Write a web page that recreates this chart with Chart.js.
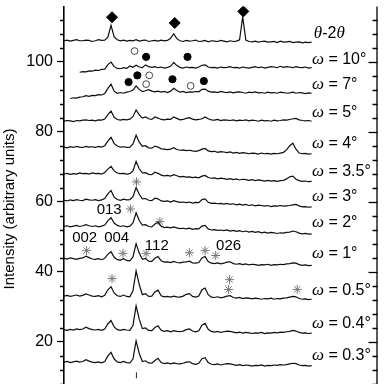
<!DOCTYPE html>
<html>
<head>
<meta charset="utf-8">
<script src="https://cdn.jsdelivr.net/npm/chart.js@4/dist/chart.umd.min.js"></script>
<style>
html,body{margin:0;padding:0;background:#fff;}
#wrap{position:absolute;left:0;top:0;width:384px;height:384px;overflow:hidden;background:#fff;}
canvas{display:block;}
</style>
</head>
<body>
<div id="wrap"><canvas id="c" width="384" height="418"></canvas></div>
<script>
// ---- data (2θ grid, intensities) ----
const twoTheta = [10,10.5,11,11.5,12,12.5,13,13.5,14,14.5,15,15.5,16,16.5,17,17.5,18,18.5,19,19.5,
20,20.5,21,21.5,22,22.5,23,23.5,24,24.5,25,25.5,26,26.5,27,27.5,28,28.5,29,29.5,
30,30.5,31,31.5,32,32.5,33,33.5,34,34.5,35,35.5,36,36.5,37,37.5,38,38.5,39,39.5,
40,40.5,41,41.5,42,42.5,43,43.5,44,44.5,45,45.5,46,46.5,47,47.5,48,48.5,49,49.5];

const thetaTwoTheta = [106.0,106.2,105.9,106.1,106.3,106.0,106.0,106.2,106.1,105.8,
106.0,106.3,106.1,106.2,107.0,110.4,107.1,106.3,106.0,106.2,
105.9,106.1,106.0,106.3,105.9,106.1,106.2,105.8,106.0,106.1,
105.9,106.2,106.0,106.1,106.7,108.0,106.6,106.0,105.8,106.1,
105.9,106.0,106.2,105.8,105.9,106.1,105.7,106.0,105.9,105.8,
106.1,105.9,105.7,106.0,105.8,105.9,106.3,112.8,106.2,105.8,
105.7,105.9,105.6,105.8,105.9,105.6,105.7,105.8,105.5,105.9,
105.6,105.7,105.8,105.5,105.6,105.7,105.4,105.6,105.5,105.6];

const omega10 = [null,null,null,null,null,97.0,97.2,97.1,97.4,97.3,
97.6,97.5,97.8,97.9,99.2,99.9,98.6,98.1,98.0,98.3,
98.1,98.8,98.4,99.0,98.5,98.3,99.1,98.6,98.4,98.6,
98.3,98.5,98.2,98.4,98.7,99.8,98.9,98.4,98.2,98.5,
98.3,98.4,98.2,98.5,99.0,99.1,98.5,98.3,98.4,98.2,
98.5,98.3,98.4,98.6,98.3,98.4,98.2,98.5,98.3,98.2,
98.4,98.6,98.3,98.5,98.2,98.4,98.6,98.5,98.3,98.7,
98.4,98.6,98.5,98.3,98.6,98.4,98.3,98.5,98.2,98.3];

const omega7 = [null,null,89.5,89.7,89.6,89.9,90.0,90.3,90.1,90.4,
90.3,90.6,90.5,90.9,92.4,93.6,91.6,91.0,91.2,91.0,
91.3,91.5,91.9,93.1,92.1,91.5,91.7,92.0,91.6,91.4,
91.6,91.3,91.5,91.2,91.6,92.4,91.8,91.3,91.5,91.2,
91.4,91.3,91.5,91.4,92.1,92.2,91.6,91.3,91.4,91.2,
91.5,91.3,91.2,91.4,91.1,91.3,91.4,91.2,91.0,91.3,
91.2,91.4,91.1,91.2,91.0,91.3,91.1,91.2,91.0,91.3,
91.2,91.0,91.1,91.3,91.0,91.2,91.1,90.9,91.1,91.0];

const omega5 = [83.0,83.2,83.1,82.9,83.2,83.1,83.3,83.4,83.2,83.3,
83.1,83.4,83.3,83.6,84.9,85.9,84.1,83.5,83.3,83.5,
83.4,83.6,84.3,86.2,84.8,83.9,84.2,83.7,83.5,84.2,
83.9,83.5,83.4,83.6,83.5,84.2,83.8,83.4,83.5,83.8,
84.0,83.6,83.4,83.5,83.7,84.2,83.7,83.4,83.3,83.5,
83.2,83.4,83.3,83.2,83.4,83.1,83.3,83.2,83.4,83.1,
83.3,83.2,83.0,83.3,83.1,83.2,83.0,83.3,83.1,83.2,
83.4,83.3,83.5,83.7,83.8,83.4,83.2,83.1,83.2,83.0];

const omega4 = [75.6,75.4,75.7,75.5,75.8,75.6,75.5,75.8,75.6,75.7,
75.5,75.8,75.6,76.0,77.3,78.4,76.6,75.9,75.6,75.7,
75.5,75.6,76.5,79.0,77.0,75.8,76.0,75.4,75.3,75.9,
75.6,75.1,75.0,74.9,75.0,75.4,74.9,74.7,74.8,74.6,
74.7,74.5,74.4,74.6,75.0,75.2,74.5,74.3,74.4,74.1,
74.3,74.2,74.0,74.2,73.9,74.1,73.8,74.0,73.9,73.7,
73.9,73.8,73.6,73.9,73.7,73.8,73.6,73.8,73.7,73.9,
74.1,74.8,76.0,76.7,75.0,73.9,73.7,73.8,73.6,73.7];

const omega3p5 = [67.9,68.1,67.8,68.0,67.9,68.2,68.0,68.1,67.9,68.2,
68.0,68.1,67.9,68.3,69.3,70.1,68.8,68.2,68.0,68.1,
67.9,68.0,68.8,71.5,69.4,68.2,68.3,67.8,67.7,68.4,
68.1,67.6,67.4,67.5,67.3,67.7,67.4,67.1,67.2,67.0,
67.1,66.9,67.0,66.8,67.3,67.5,66.9,66.7,66.8,66.5,
66.7,66.6,66.4,66.6,66.3,66.5,66.2,66.4,66.3,66.1,
66.3,66.0,66.2,66.1,65.9,66.1,65.9,66.0,65.8,66.0,
66.1,66.5,67.1,67.3,66.4,66.0,65.8,65.9,65.7,65.8];

const omega3 = [60.4,60.2,60.5,60.3,60.6,60.4,60.3,60.7,60.5,60.4,
60.6,60.3,60.5,60.9,62.2,63.2,61.3,60.6,60.4,60.7,
60.5,60.6,61.4,64.0,62.1,60.8,60.9,60.4,60.3,61.0,
60.8,60.2,60.1,60.2,59.9,60.3,60.0,59.8,59.9,59.7,
59.9,59.6,59.8,59.7,60.6,60.8,59.8,59.5,59.6,59.4,
59.5,59.3,59.5,59.2,59.4,59.1,59.3,59.0,59.2,58.9,
59.1,58.8,59.0,58.9,58.7,58.9,58.6,58.8,58.7,58.9,
58.7,58.8,58.9,59.1,59.2,58.8,58.5,58.6,58.4,58.5];

const omega2 = [52.9,53.1,52.8,53.0,53.2,52.9,53.1,53.4,53.1,52.9,
53.1,52.8,53.0,53.3,54.6,55.4,53.9,53.2,52.9,53.1,
52.8,53.0,53.9,56.8,54.6,53.3,53.4,52.9,52.8,53.6,
54.1,53.0,52.6,52.7,52.5,52.8,52.5,52.3,52.4,52.2,
52.4,52.1,52.3,52.2,53.0,53.2,52.2,51.9,52.0,51.8,
51.9,51.7,51.9,51.6,51.8,51.5,51.7,51.4,51.6,51.3,
51.5,51.2,51.4,51.1,51.3,51.0,51.2,51.1,50.9,51.1,
51.0,51.2,51.3,51.6,51.4,51.0,50.8,50.9,50.7,50.8];

const omega1 = [43.8,43.6,43.9,43.7,43.5,43.8,43.9,44.4,44.0,43.6,
43.5,43.7,43.4,43.8,45.0,45.7,44.1,43.4,43.3,43.7,
43.2,43.1,44.2,48.0,45.3,43.5,43.8,43.0,42.9,43.8,
44.3,43.1,42.7,42.8,42.6,42.9,42.6,42.5,42.7,42.8,
43.0,42.5,42.4,42.6,43.9,44.3,42.9,42.4,42.3,42.5,
42.2,42.4,42.7,42.8,42.3,42.1,42.3,42.0,42.2,41.9,
42.1,42.0,41.8,42.0,41.9,42.1,41.8,42.0,41.9,42.1,
42.0,42.2,42.3,42.5,42.4,42.0,41.8,41.9,41.7,41.8];

const omega0p5 = [33.0,33.2,32.9,33.1,33.3,33.0,33.2,33.6,33.3,33.0,
32.9,33.1,32.8,33.2,34.8,35.7,33.9,33.1,32.9,33.3,
32.9,32.8,34.5,40.2,36.3,33.4,33.7,32.9,33.0,34.2,
34.7,33.1,32.8,32.9,32.7,33.0,32.8,32.7,33.0,33.5,
33.7,32.9,32.7,33.0,34.8,35.3,33.4,32.7,32.6,32.8,
32.5,32.7,33.0,33.1,32.6,32.4,32.6,32.3,32.5,32.4,
32.2,32.4,32.3,32.1,32.3,32.2,32.4,32.1,32.3,32.2,
32.4,32.5,32.7,32.9,32.8,32.3,32.1,32.2,32.0,32.1];

const omega0p4 = [23.4,23.2,23.5,23.3,23.6,23.4,23.6,24.1,23.7,23.4,
23.3,23.5,23.2,23.6,25.1,26.0,24.2,23.4,23.2,23.5,
23.3,23.2,24.6,30.2,26.4,23.7,23.9,23.2,23.1,24.0,
24.5,23.2,22.9,23.1,22.8,23.1,22.9,22.8,23.0,23.4,
23.6,23.0,22.8,23.1,24.7,25.2,23.5,22.9,22.7,22.9,
22.6,22.8,23.0,22.9,22.7,22.5,22.7,22.4,22.6,22.5,
22.3,22.5,22.4,22.6,22.3,22.5,22.4,22.6,22.5,22.7,
22.6,22.8,22.9,23.2,23.0,22.6,22.4,22.5,22.3,22.4];

const omega0p3 = [14.1,14.3,14.0,14.2,14.4,14.1,14.3,14.8,14.4,14.1,
14.0,14.2,13.9,14.3,15.9,16.9,15.0,14.2,14.0,14.3,
14.0,13.9,15.0,20.2,16.6,14.3,14.5,13.9,13.8,14.6,
15.2,14.0,13.7,13.9,13.6,13.9,13.7,13.6,13.8,14.1,
14.2,13.7,13.5,13.8,15.1,15.4,14.0,13.5,13.4,13.6,
13.3,13.5,13.7,13.6,13.4,13.2,13.4,13.1,13.3,13.2,
13.0,13.2,13.1,13.3,13.0,13.2,13.1,13.3,13.2,13.4,
13.3,13.4,13.6,13.8,13.7,13.3,13.1,13.2,13.0,13.1];

const traceLabels = ['θ-2θ','ω = 10°','ω = 7°','ω = 5°','ω = 4°','ω = 3.5°','ω = 3°','ω = 2°','ω = 1°','ω = 0.5°','ω = 0.4°','ω = 0.3°'];
const traceSeries = [thetaTwoTheta,omega10,omega7,omega5,omega4,omega3p5,omega3,omega2,omega1,omega0p5,omega0p4,omega0p3];
const yTicks = [20,40,60,80,100];

// phase markers [2θ, intensity]
const diamondMarks = [[17.66,112.75],[27.66,111.1],[38.6,114.4]];
const filledCircleMarks = [[23.1,101.4],[29.7,101.4],[20.3,94.2],[21.7,96.1],[27.3,95.0],[32.3,94.5]];
const openCircleMarks = [[21.25,103.05],[23.6,96.1],[23.1,93.6],[30.2,93.1]];
const asteriskMarks = [[21.56,65.66],[20.6,57.9],[25.3,54.3],[13.6,46.0],[19.4,45.2],[23.1,45.2],[30.0,45.4],[32.5,46.0],[34.2,44.6],[17.66,38.0],[36.4,37.7],[36.25,34.9],[47.2,34.9]];
const refTick = [[21.55,9.5],[21.55,11.2]];

// annotations
const hklLabels = ['002','004','013','112','026'];
const hklAnchors = [[13.3,49.6],[18.4,49.6],[17.2,57.6],[24.8,47.4],[36.25,47.4]];
const traceLabelAnchors = [[49.85,108.0],[49.55,100.6],[49.55,93.6],[49.55,85.6],[49.55,76.5],[49.55,68.7],[49.55,61.5],[49.55,54.0],[49.55,45.2],[49.55,34.6],[49.55,25.2],[49.55,16.1]];

// ---- build chart ----
const pts = arr => arr.map(p => ({x: p[0], y: p[1]}));
const datasets = traceSeries.map((s, k) => ({
  label: traceLabels[k],
  data: twoTheta.map((t, i) => ({x: t, y: s[i]})),
  borderColor: '#0d0d0d', borderWidth: 1.2, pointRadius: 0, tension: 0, spanGaps: false
}));
datasets.push({label:'ref', data: pts(refTick), borderColor:'#222', borderWidth:1, pointRadius:0});
datasets.push({label:'diamond', data: pts(diamondMarks), showLine:false, pointStyle:'rectRot', pointRadius:5.5, pointBackgroundColor:'#000', pointBorderColor:'#000', pointBorderWidth:1});
datasets.push({label:'filled', data: pts(filledCircleMarks), showLine:false, pointStyle:'circle', pointRadius:3.6, pointBackgroundColor:'#000', pointBorderColor:'#000', pointBorderWidth:1});
datasets.push({label:'open', data: pts(openCircleMarks), showLine:false, pointStyle:'circle', pointRadius:3.4, pointBackgroundColor:'#fff', pointBorderColor:'#333', pointBorderWidth:0.9});
datasets.push({label:'star', data: pts(asteriskMarks), showLine:false, pointStyle:'star', pointRadius:4.5, pointBackgroundColor:'#777', pointBorderColor:'#777', pointBorderWidth:1});

const SANS = 'Arial, "Liberation Sans", sans-serif';
const SERIF = '"Times New Roman", "Liberation Serif", "DejaVu Serif", serif';

const decor = {
  id: 'decor',
  afterDraw(chart) {
    const {ctx, chartArea: a, scales: {x, y}} = chart;
    ctx.save();
    ctx.strokeStyle = '#000'; ctx.lineWidth = 1.3;
    for (let v = 0; v <= 115; v += 4) {
      const py = Math.round(y.getPixelForValue(v)) + 0.5;
      const major = v % 20 === 0;
      ctx.beginPath();
      if (!major) { ctx.moveTo(a.left - 4, py); ctx.lineTo(a.left, py); }
      ctx.moveTo(a.right - (major ? 9 : 5), py); ctx.lineTo(a.right, py);
      ctx.stroke();
    }
    ctx.beginPath(); ctx.moveTo(a.right - 0.5, a.top); ctx.lineTo(a.right - 0.5, a.bottom); ctx.stroke();
    // trace labels
    ctx.fillStyle = '#000';
    ctx.textBaseline = 'middle'; ctx.textAlign = 'left';
    traceLabels.forEach((txt, k) => {
      let px = x.getPixelForValue(traceLabelAnchors[k][0]);
      const py = y.getPixelForValue(traceLabelAnchors[k][1]);
      for (const ch of txt) {
        const greek = (ch === 'ω' || ch === 'θ');
        ctx.font = greek ? 'italic 17px ' + SERIF : '16px ' + SANS;
        ctx.fillText(ch, px, py);
        px += ctx.measureText(ch).width;
      }
    });
    // hkl labels
    ctx.font = '15px ' + SANS; ctx.textAlign = 'center';
    hklLabels.forEach((txt, k) => {
      ctx.fillText(txt, x.getPixelForValue(hklAnchors[k][0]), y.getPixelForValue(hklAnchors[k][1]));
    });
    ctx.restore();
  }
};

new Chart(document.getElementById('c'), {
  type: 'line',
  data: { datasets },
  options: {
    responsive: false, animation: false, devicePixelRatio: 1,
    layout: { padding: 0 },
    plugins: { legend: {display:false}, tooltip: {enabled:false} },
    scales: {
      x: { type: 'linear', min: 10, max: 60, display: false },
      y: {
        type: 'linear', min: 0, max: 115.8, position: 'left',
        afterBuildTicks(s) { s.ticks = yTicks.map(v => ({value: v})); },
        ticks: { color: '#000', padding: 4, font: {family: SANS, size: 16} },
        grid: { drawOnChartArea: false, tickLength: 7, tickColor: '#000', tickWidth: 1.3 },
        border: { color: '#000', width: 1.6 },
        title: { display: true, text: 'Intensity (arbitrary units)', color: '#000', font: {family: SANS, size: 15}, padding: {top: 1, bottom: 0} },
        afterFit(s) { s.width = 64; s.paddingTop = 0; s.paddingBottom = 0; }
      }
    }
  },
  plugins: [decor]
});
</script>
</body>
</html>
